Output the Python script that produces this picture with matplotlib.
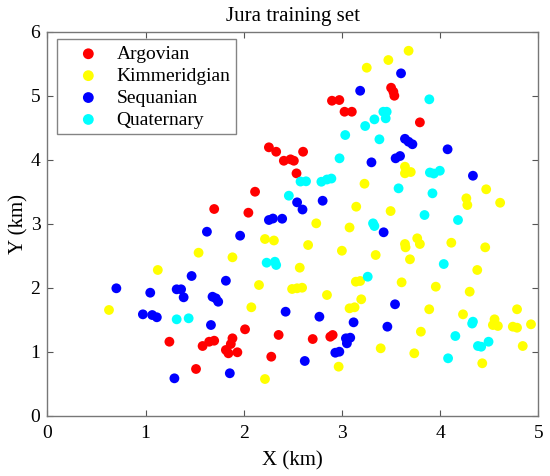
import matplotlib
matplotlib.use("Agg")
import matplotlib.pyplot as plt

plt.rcParams['font.family'] = ['Liberation Serif', 'DejaVu Serif']

categories = ["Argovian", "Kimmeridgian", "Sequanian", "Quaternary"]
colors = ["#ff0000", "#ffff00", "#0000ff", "#00ffff"]

argovian_x = [2.256, 2.330, 2.408, 2.476, 2.510, 2.604, 2.537, 2.115, 1.699, 2.047,
              2.898, 2.973, 3.026, 3.100, 3.500, 3.523, 3.533, 3.793,
              2.013, 2.355, 1.243, 1.581, 1.648, 1.699, 1.885, 1.868, 1.818, 1.844,
              1.935, 2.280, 1.514, 2.702, 2.881, 2.905]
argovian_y = [4.194, 4.125, 3.984, 4.006, 3.984, 4.125, 3.787, 3.500, 3.230, 3.172,
              4.922, 4.933, 4.750, 4.750, 5.125, 5.063, 5.000, 4.584,
              1.350, 1.262, 1.156, 1.089, 1.156, 1.172, 1.209, 1.120, 1.027, 0.975,
              0.991, 0.922, 0.730, 1.198, 1.234, 1.261]

kimmeridgian_x = [3.252, 3.472, 3.678, 3.641, 3.641, 3.700, 3.229, 4.468, 4.266, 4.276,
                  4.610, 3.145, 3.495, 2.738, 3.077, 2.216, 2.307, 1.540, 1.885, 1.125,
                  2.155, 0.628, 2.077, 2.216, 2.655, 2.999, 3.343, 3.641, 3.647, 3.766,
                  3.793, 3.692, 4.113, 4.458, 2.570, 4.377, 3.141, 3.185, 3.607, 2.492,
                  2.543, 2.594, 2.847, 3.955, 4.300, 3.196, 3.077, 3.128, 3.888, 4.232,
                  4.553, 4.536, 4.587, 4.782, 4.739, 4.782, 4.924, 3.803, 4.840, 2.966,
                  3.394, 3.736, 4.428]
kimmeridgian_y = [5.438, 5.558, 5.703, 3.891, 3.788, 3.808, 3.625, 3.538, 3.397, 3.292,
                  3.328, 3.266, 3.198, 3.006, 2.941, 2.761, 2.738, 2.547, 2.475, 2.277,
                  2.042, 1.652, 1.694, 0.573, 2.667, 2.578, 2.511, 2.683, 2.631, 2.772,
                  2.683, 2.444, 2.703, 2.631, 2.313, 2.277, 2.094, 2.105, 2.084, 1.980,
                  1.991, 2.000, 1.886, 2.016, 1.938, 1.819, 1.678, 1.694, 1.663, 1.584,
                  1.506, 1.417, 1.402, 1.663, 1.391, 1.375, 1.428, 1.313, 1.089, 0.766,
                  1.053, 0.975, 0.819]

sequanian_x = [3.601, 3.185, 3.641, 3.678, 3.717, 4.075, 3.546, 3.591, 3.300, 4.333,
               2.543, 2.598, 2.803, 2.256, 2.297, 2.391, 3.424, 1.625, 1.963, 1.469,
               1.818, 0.703, 1.048, 1.317, 1.362, 1.388, 1.682, 1.716, 1.740, 2.426,
               0.973, 1.068, 1.115, 1.666, 2.770, 3.540, 3.118, 3.462, 3.040, 3.084,
               3.050, 2.932, 2.973, 2.621, 1.294, 1.858]
sequanian_y = [5.350, 5.078, 4.327, 4.281, 4.242, 4.163, 4.022, 4.058, 3.959, 3.750,
               3.334, 3.222, 3.359, 3.058, 3.081, 3.078, 2.866, 2.875, 2.813, 2.183,
               2.109, 1.991, 1.922, 1.975, 1.975, 1.850, 1.859, 1.834, 1.781, 1.625,
               1.584, 1.573, 1.538, 1.417, 1.547, 1.741, 1.459, 1.391, 1.209, 1.219,
               1.131, 0.984, 1.000, 0.855, 0.584, 0.663]

quaternary_x = [3.889, 3.421, 3.455, 3.445, 3.330, 3.236, 3.033, 3.381, 2.975, 3.895,
                3.935, 3.996, 2.578, 2.634, 2.790, 2.847, 2.892, 2.459, 3.576, 3.921,
                3.840, 4.181, 3.316, 3.330, 2.233, 2.317, 2.330, 3.262, 4.036, 1.317,
                1.439, 4.333, 4.325, 4.154, 4.384, 4.417, 4.492, 4.080]
quaternary_y = [4.944, 4.750, 4.750, 4.647, 4.631, 4.527, 4.386, 4.319, 4.022, 3.800,
                3.784, 3.828, 3.659, 3.663, 3.656, 3.691, 3.706, 3.438, 3.553, 3.475,
                3.136, 3.058, 3.006, 2.964, 2.391, 2.406, 2.355, 2.172, 2.370, 1.506,
                1.522, 1.469, 1.440, 1.245, 1.089, 1.078, 1.156, 0.897]

series = [(argovian_x, argovian_y), (kimmeridgian_x, kimmeridgian_y),
          (sequanian_x, sequanian_y), (quaternary_x, quaternary_y)]

fig = plt.figure(figsize=(5.5, 4.76), dpi=100)
ax = fig.add_axes([0.086, 0.1267, 0.893, 0.8066])

for (xs, ys), name, c in zip(series, categories, colors):
    ax.scatter(xs, ys, s=50, c=c, edgecolors='none', label=name, zorder=3)

ax.set_xlim(0, 5)
ax.set_ylim(0, 6)
ax.set_xticks([0, 1, 2, 3, 4, 5])
ax.set_yticks([0, 1, 2, 3, 4, 5, 6])
ax.tick_params(direction='in', top=True, right=True, length=4, width=0.8,
               color='#555555', labelsize=14)
ax.tick_params(axis='x', pad=7)
ax.tick_params(axis='y', pad=5)
for sp in ax.spines.values():
    sp.set_color('#777777')
    sp.set_linewidth(1.0)

ax.set_title("Jura training set", fontsize=15, pad=8)
ax.set_xlabel("X (km)", fontsize=15, labelpad=6.5)
ax.set_ylabel("Y (km)", fontsize=15, labelpad=1.5)

leg = ax.legend(loc='upper left', fontsize=14, frameon=True, fancybox=False,
                borderpad=0.3, labelspacing=0.22, handletextpad=0.13,
                handlelength=2.66, scatterpoints=1, markerscale=1.1,
                bbox_to_anchor=(0.019, 0.980), borderaxespad=0.0)
leg.get_frame().set_edgecolor('#666666')
leg.get_frame().set_linewidth(1.0)

fig.savefig("out.png", dpi=100)
